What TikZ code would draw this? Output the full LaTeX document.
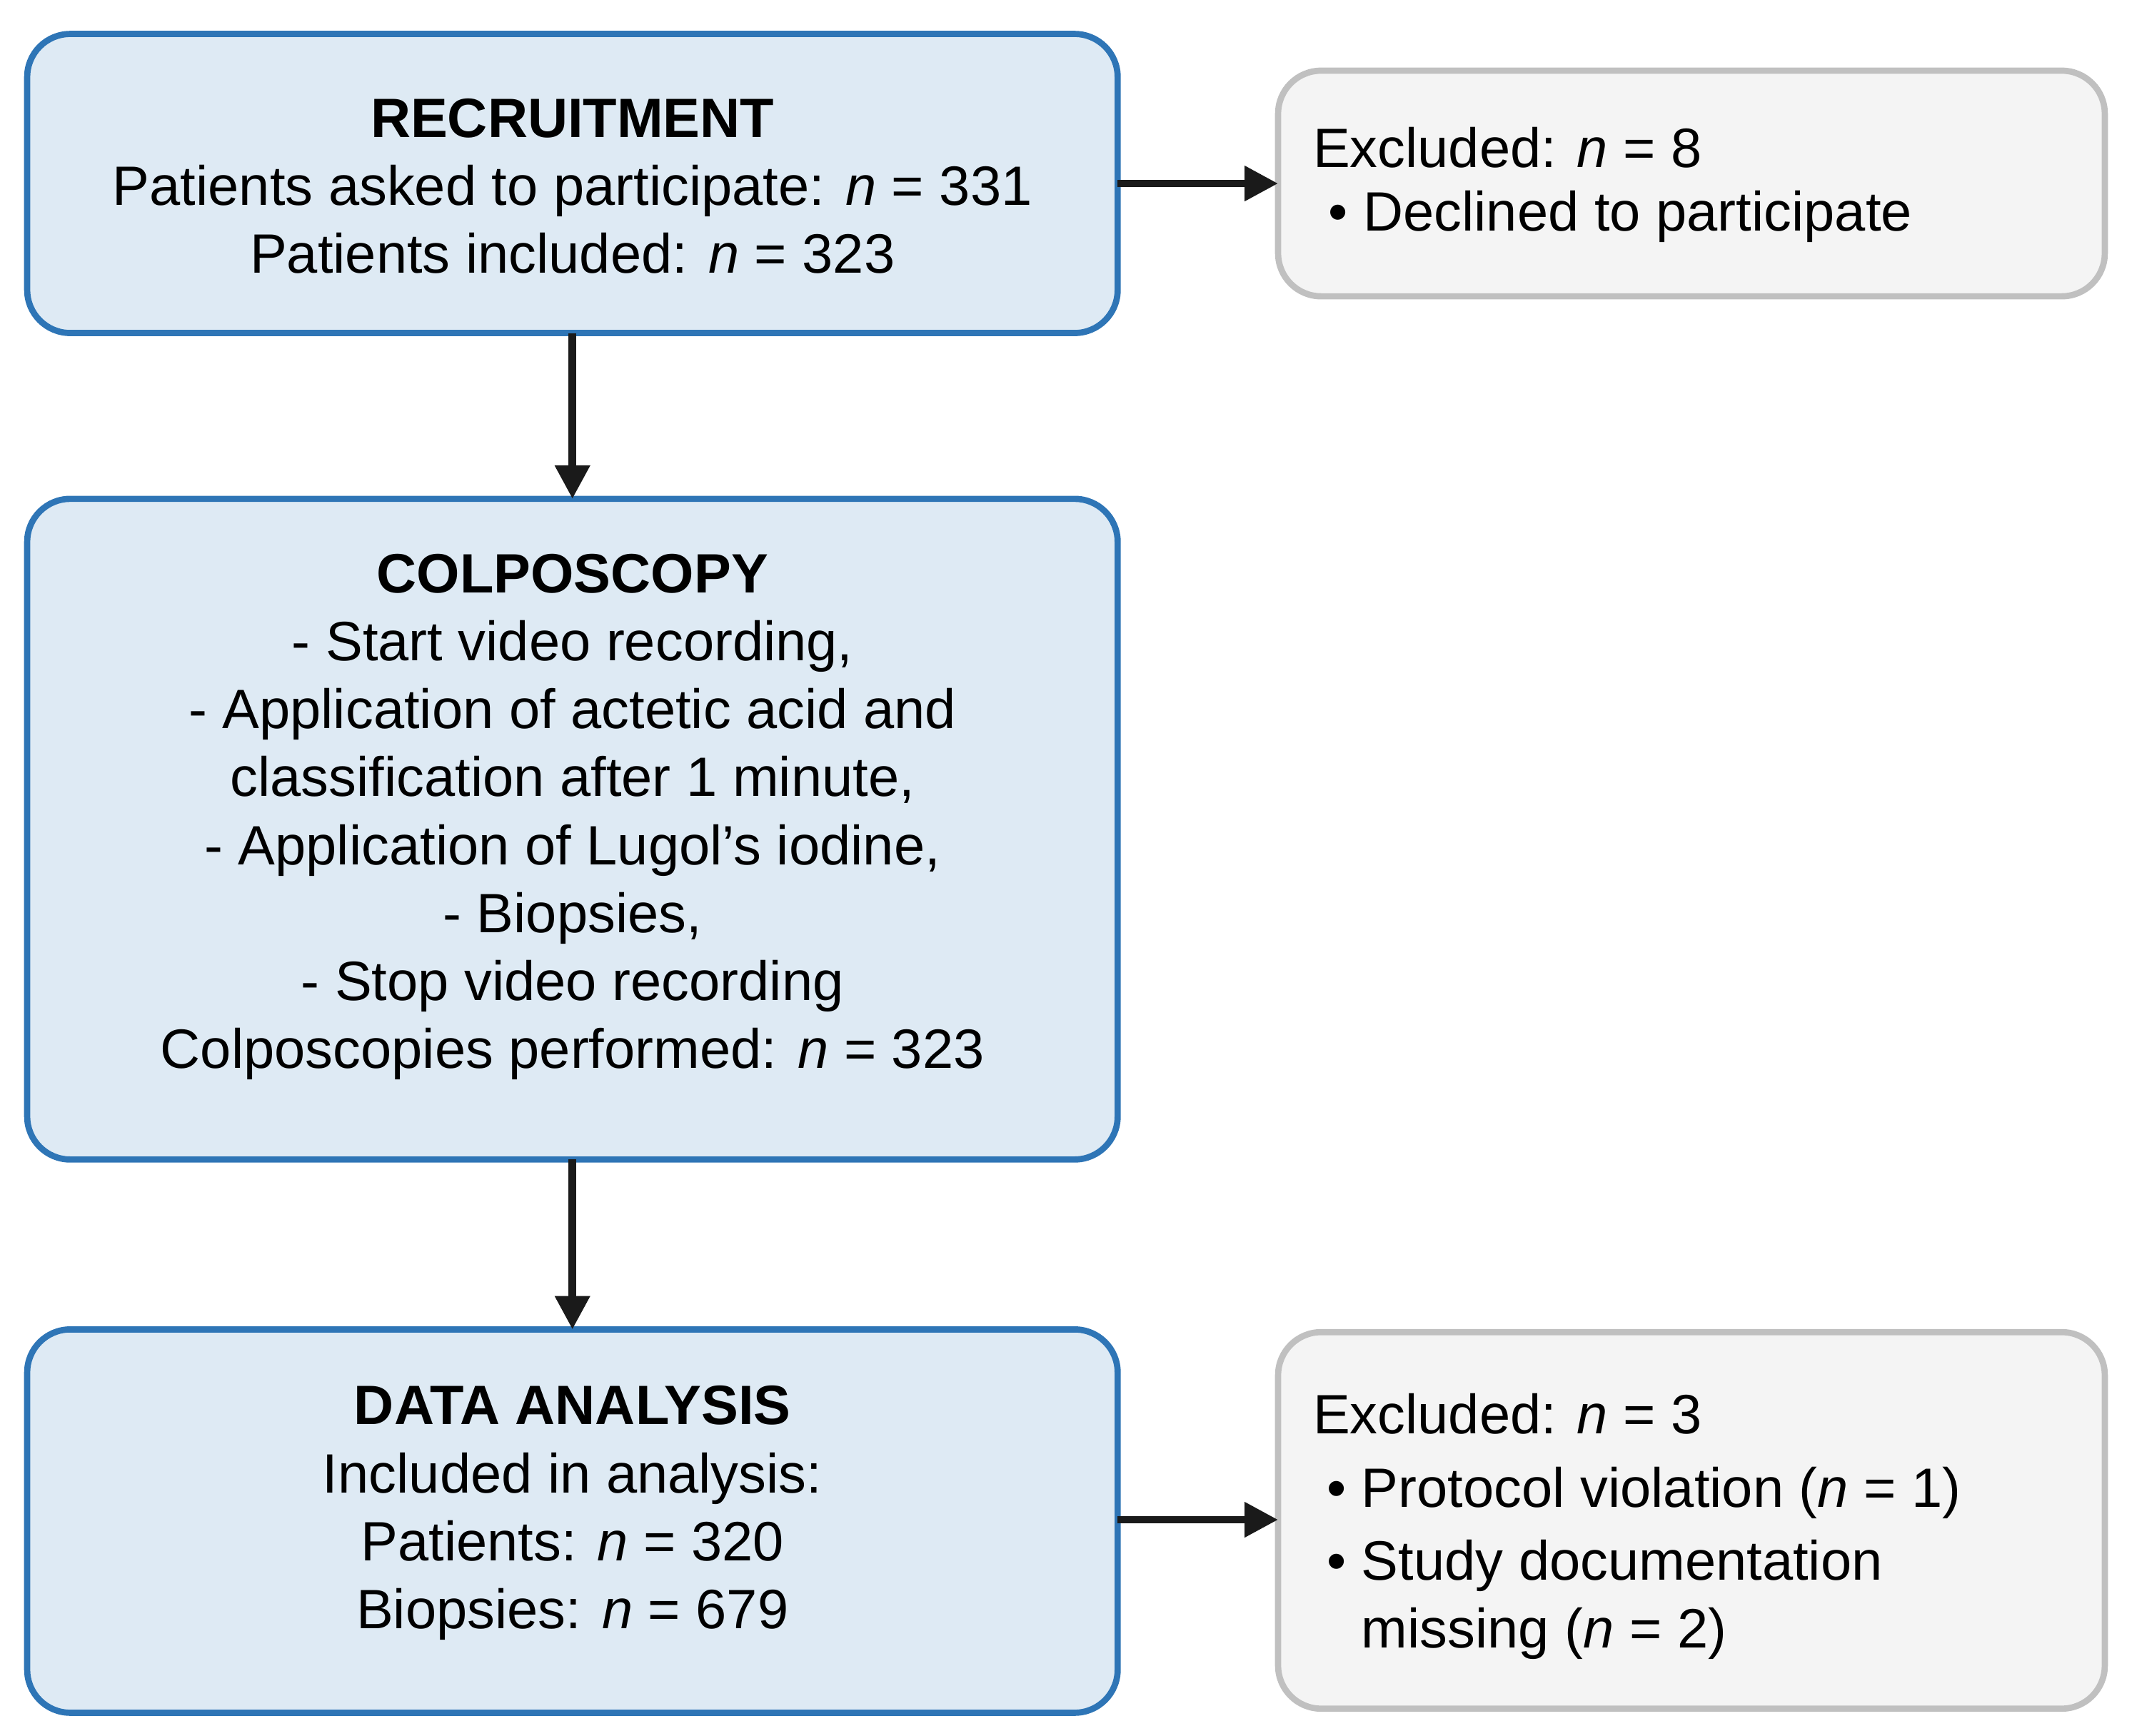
\documentclass[tikz,border=0pt]{standalone}
\usepackage{fontspec}
\setmainfont{Liberation Sans}
\usetikzlibrary{arrows.meta}
\definecolor{bfill}{HTML}{DEEAF4}
\definecolor{bdraw}{HTML}{2E75B6}
\definecolor{gfill}{HTML}{F4F4F4}
\definecolor{gdraw}{HTML}{C0C0C0}
\definecolor{arr}{HTML}{1A1A1A}
\begin{document}
\begin{tikzpicture}[x=0.01cm,y=-0.01cm,
  bbox/.style={draw=bdraw,fill=bfill,line width=1.3pt,rounded corners=9pt},
  gbox/.style={draw=gdraw,fill=gfill,line width=1.3pt,rounded corners=9pt},
  txt/.style={align=center,font=\fontsize{11.6}{14.2}\selectfont,inner sep=0pt},
  ltxt/.style={align=left,anchor=west,font=\fontsize{11.6}{14.2}\selectfont,inner sep=0pt},
  ar/.style={-{Triangle[length=7pt,width=7pt]},line width=1.6pt,draw=arr}]
\useasboundingbox (0,0) rectangle (1568,1277);
\draw[bbox] (20,25) rectangle (822,245);
\draw[gbox] (940,52) rectangle (1548,218);
\draw[bbox] (20,367) rectangle (822,853);
\draw[bbox] (20,978) rectangle (822,1260);
\draw[gbox] (940,980) rectangle (1548,1257);
\coordinate (r) at (421,135);
\node[txt] (rt) at (421,137) {\textbf{RECRUITMENT}\\Patients asked to participate: \textit{n} = 331\\Patients included: \textit{n} = 323};
\node[txt] (ct) at (421,601) {\textbf{COLPOSCOPY}\\- Start video recording,\\- Application of actetic acid and\\classification after 1 minute,\\- Application of Lugol’s iodine,\\- Biopsies,\\- Stop video recording\\Colposcopies performed: \textit{n} = 323};
\node[txt] (dt) at (421,1113) {\textbf{DATA ANALYSIS}\\Included in analysis:\\Patients: \textit{n} = 320\\Biopsies: \textit{n} = 679};
\node[ltxt] (e1) at (965,136) {Excluded: \textit{n} = 8\\[-1pt]\ \textbullet\ Declined to participate};
\node[ltxt] (e2a) at (965,1040) {Excluded: \textit{n} = 3};
\node[ltxt] (e2b) at (975,1150) {\textbullet\ Protocol violation (\textit{n} = 1)\\[1pt]\textbullet\ Study documentation\\\phantom{\textbullet\ }missing (\textit{n} = 2)};
\coordinate (a1) at (421,245); \coordinate (a2) at (421,367);
\coordinate (a3) at (421,853); \coordinate (a4) at (421,978);
\coordinate (h1) at (822,135); \coordinate (h2) at (940,135);
\coordinate (h3) at (822,1118); \coordinate (h4) at (940,1118);
\draw[ar] (a1) -- (a2);
\draw[ar] (a3) -- (a4);
\draw[ar] (h1) -- (h2);
\draw[ar] (h3) -- (h4);
\end{tikzpicture}
\end{document}
